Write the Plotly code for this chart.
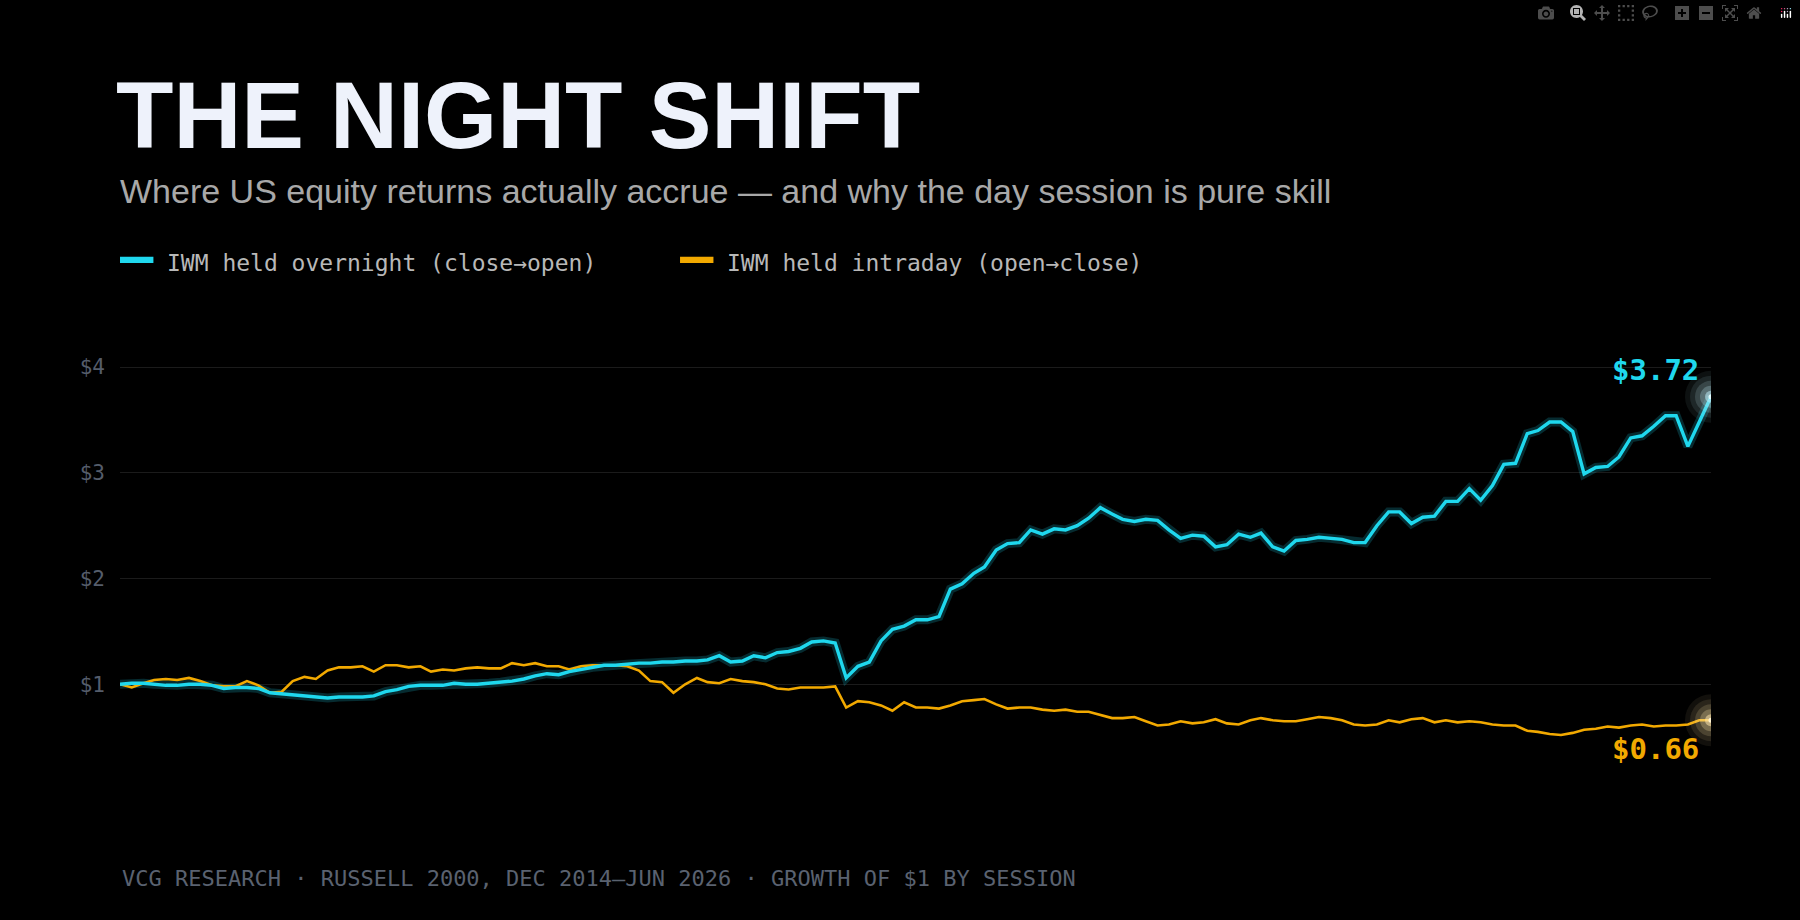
import pandas as pd
import plotly.graph_objects as go

# Growth of $1, monthly, Dec 2014 - Jun 2026
overnight = [
    1.00, 1.01, 1.01, 1.00, 0.99, 0.99, 1.00, 1.00, 0.99, 0.96, 0.97, 0.97, 0.96, 0.92, 0.91,
    0.90, 0.89, 0.88, 0.87, 0.88, 0.88, 0.88, 0.89, 0.93, 0.95, 0.98, 0.99, 0.99, 0.99, 1.01,
    1.00, 1.00, 1.01, 1.02, 1.03, 1.05, 1.08, 1.10, 1.09, 1.12, 1.14, 1.16, 1.18, 1.18, 1.19,
    1.20, 1.20, 1.21, 1.21, 1.22, 1.22, 1.23, 1.27, 1.21, 1.22, 1.27, 1.25, 1.30, 1.31, 1.34,
    1.40, 1.41, 1.39, 1.06, 1.17, 1.21, 1.41, 1.52, 1.55, 1.61, 1.61, 1.64, 1.90, 1.95, 2.05,
    2.11, 2.27, 2.33, 2.34, 2.46, 2.42, 2.47, 2.46, 2.50, 2.57, 2.67, 2.61, 2.56, 2.54, 2.56,
    2.55, 2.46, 2.38, 2.41, 2.40, 2.30, 2.32, 2.42, 2.39, 2.43, 2.30, 2.26, 2.36, 2.37, 2.39,
    2.38, 2.37, 2.34, 2.34, 2.50, 2.63, 2.63, 2.52, 2.58, 2.59, 2.73, 2.73, 2.85, 2.74, 2.88,
    3.08, 3.09, 3.37, 3.40, 3.48, 3.48, 3.39, 2.99, 3.05, 3.06, 3.15, 3.33, 3.35, 3.44, 3.54,
    3.54, 3.25, 3.48, 3.72,
]
intraday = [
    1.00, 0.97, 1.01, 1.04, 1.05, 1.04, 1.06, 1.03, 0.99, 0.98, 0.98, 1.03, 0.99, 0.92, 0.93,
    1.03, 1.07, 1.05, 1.13, 1.16, 1.16, 1.17, 1.12, 1.18, 1.18, 1.16, 1.17, 1.12, 1.14, 1.13,
    1.15, 1.16, 1.15, 1.15, 1.20, 1.18, 1.20, 1.17, 1.17, 1.14, 1.17, 1.18, 1.18, 1.18, 1.17,
    1.13, 1.03, 1.02, 0.92, 1.00, 1.06, 1.02, 1.01, 1.05, 1.03, 1.02, 1.00, 0.96, 0.95, 0.97,
    0.97, 0.97, 0.98, 0.78, 0.84, 0.83, 0.80, 0.75, 0.83, 0.78, 0.78, 0.77, 0.80, 0.84, 0.85,
    0.86, 0.81, 0.77, 0.78, 0.78, 0.76, 0.75, 0.76, 0.74, 0.74, 0.71, 0.68, 0.68, 0.69, 0.65,
    0.61, 0.62, 0.65, 0.63, 0.64, 0.67, 0.63, 0.62, 0.66, 0.68, 0.66, 0.65, 0.65, 0.67, 0.69,
    0.68, 0.66, 0.62, 0.61, 0.62, 0.66, 0.64, 0.67, 0.68, 0.64, 0.66, 0.64, 0.65, 0.64, 0.62,
    0.61, 0.61, 0.56, 0.55, 0.53, 0.52, 0.54, 0.57, 0.58, 0.60, 0.59, 0.61, 0.62, 0.60, 0.61,
    0.61, 0.62, 0.66, 0.66,
]
y_ticks = [1, 2, 3, 4]
y_tick_labels = ["$1", "$2", "$3", "$4"]

CYAN = "#1fd8ee"
ORANGE = "#f2a900"
MONO = "DejaVu Sans Mono"

dates_on = pd.date_range("2014-12-01", periods=len(overnight), freq="MS")
dates_in = pd.date_range("2014-12-01", periods=len(intraday), freq="MS")

fig = go.Figure()

# soft glow under the cyan line
fig.add_trace(go.Scatter(x=dates_on, y=overnight, mode="lines",
                         line=dict(color="rgba(31,216,238,0.2)", width=9),
                         hoverinfo="skip", showlegend=False))
fig.add_trace(go.Scatter(x=dates_in, y=intraday, mode="lines",
                         line=dict(color=ORANGE, width=2.6), showlegend=False))
fig.add_trace(go.Scatter(x=dates_on, y=overnight, mode="lines",
                         line=dict(color=CYAN, width=3.4), showlegend=False))

# endpoint glows
for d, v, glow, core in [(dates_on[-1], overnight[-1], "rgba(190,235,245,", "#e0fbff"),
                         (dates_in[-1], intraday[-1], "rgba(255,230,170,", "#fff3d0")]:
    for size, a in [(52, 0.07), (42, 0.1), (32, 0.16), (22, 0.26), (12, 0.55)]:
        fig.add_trace(go.Scatter(x=[d], y=[v], mode="markers",
                                 marker=dict(size=size, color=glow + f"{a})", line=dict(width=0)),
                                 hoverinfo="skip", showlegend=False))
    fig.add_trace(go.Scatter(x=[d], y=[v], mode="markers",
                             marker=dict(size=5, color=core, line=dict(width=0)), showlegend=False))

# end value labels
fig.add_annotation(x=dates_on[-1], y=overnight[-1], text=f"<b>${overnight[-1]:.2f}</b>",
                   showarrow=False, xanchor="right", yanchor="bottom", yshift=8, xshift=-10,
                   font=dict(family=MONO, size=29, color=CYAN))
fig.add_annotation(x=dates_in[-1], y=intraday[-1], text=f"<b>${intraday[-1]:.2f}</b>",
                   showarrow=False, xanchor="right", yanchor="top", yshift=-10, xshift=-10,
                   font=dict(family=MONO, size=29, color=ORANGE))

# title block
fig.add_annotation(xref="paper", yref="paper", x=-0.004, y=1.5, xanchor="left", yanchor="middle",
                   text="<b>THE NIGHT SHIFT</b>", showarrow=False,
                   font=dict(family="Liberation Sans", size=94, color="#eef2fb"))
fig.add_annotation(xref="paper", yref="paper", x=-0.001, y=1.33, xanchor="left", yanchor="middle",
                   text="Where US equity returns actually accrue — and why the day session is pure skill",
                   showarrow=False, font=dict(family="Liberation Sans", size=34, color="#a8a8a8"))

# legend
for x0, color, label in [(0, CYAN, "IWM held overnight (close→open)"),
                         (0.352, ORANGE, "IWM held intraday (open→close)")]:
    fig.add_shape(type="rect", xref="paper", yref="paper", x0=x0, x1=x0 + 0.021,
                  y0=1.171, y1=1.185, fillcolor=color, line=dict(width=0))
    fig.add_annotation(xref="paper", yref="paper", x=x0 + 0.028, y=1.171, xanchor="left",
                       yanchor="middle", text=label, showarrow=False,
                       font=dict(family=MONO, size=23, color="#b8b8b8"))

# footer
fig.add_annotation(xref="paper", yref="paper", x=0, y=-0.196, xanchor="left", yanchor="middle",
                   text="VCG RESEARCH · RUSSELL 2000, DEC 2014–JUN 2026 · GROWTH OF $1 BY SESSION",
                   showarrow=False, font=dict(family=MONO, size=22, color="#5a6270"))

fig.update_layout(
    width=1800, height=920,
    paper_bgcolor="#000000", plot_bgcolor="#000000",
    margin=dict(l=120, r=89, t=340, b=130),
    showlegend=False,
    xaxis=dict(visible=False, range=[dates_on[0], dates_on[-1]]),
    yaxis=dict(range=[0, 4.256], tickvals=y_ticks, ticktext=y_tick_labels,
               showgrid=True, gridcolor="#1b1b1b", gridwidth=1, zeroline=False,
               tickfont=dict(family=MONO, size=21, color="#555d6b"),
               ticks="", ticklabelstandoff=14),
)

fig.write_html("out.html",
               post_script="document.body.style.margin='0';document.body.style.background='#000';")
